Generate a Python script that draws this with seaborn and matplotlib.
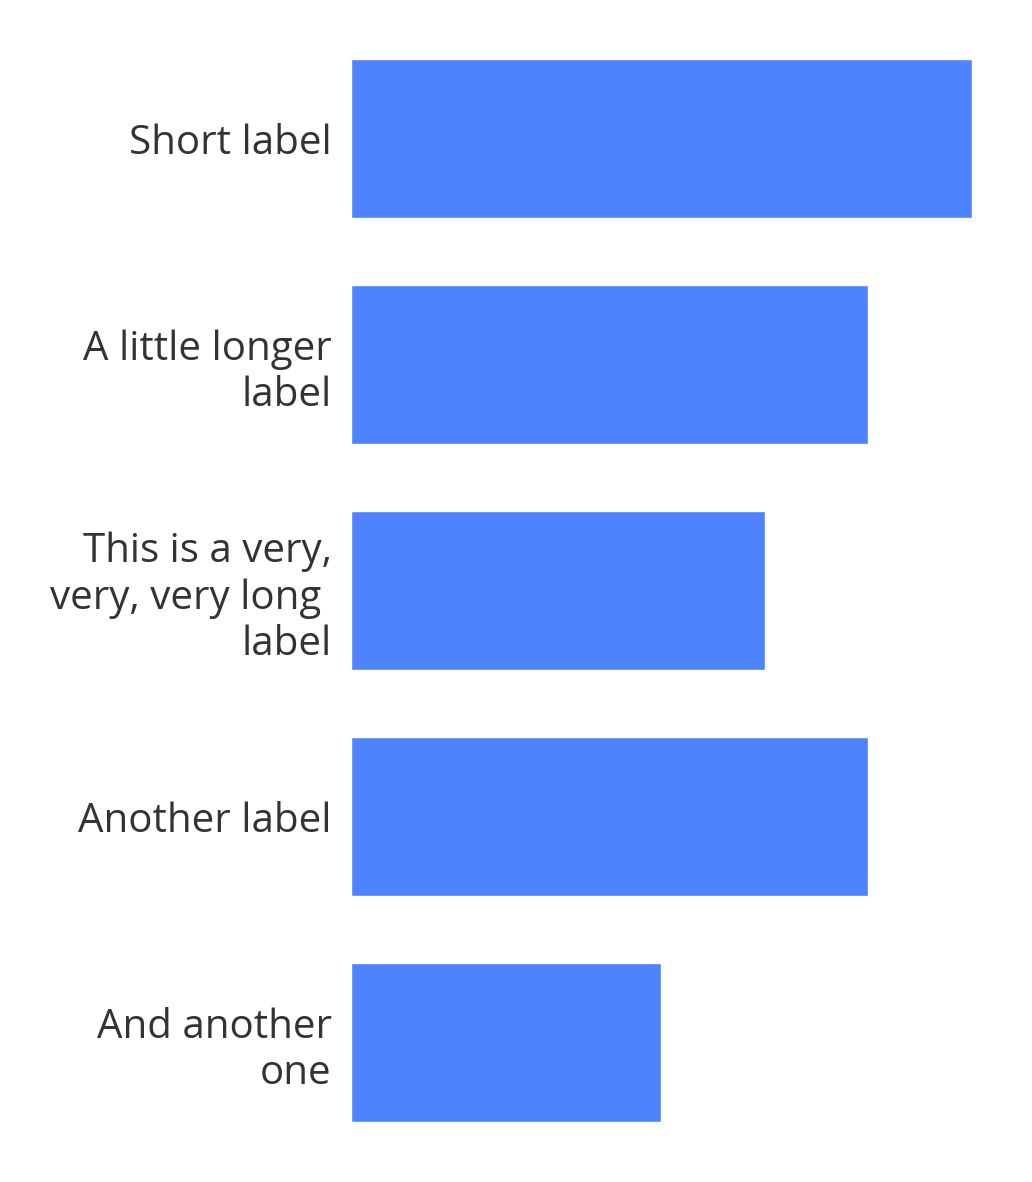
import pandas as pd
import seaborn as sns
from matplotlib import pyplot as plt

labels = ['Short label', 'A little longer\nlabel', 'This is a very,\nvery, very long \nlabel',
          'Another label', 'And another\none']
values = [6, 5, 4, 5, 3]

df = pd.DataFrame({'label': labels, 'value': values})

sns.set_style('white')
plt.rcParams['font.family'] = ['Open Sans', 'DejaVu Sans']

fig = plt.figure(figsize=(10.32, 11.82), dpi=100)
ax = fig.add_axes([351 / 1032, (1182 - 1155.5) / 1182, 621 / 1032, 1130 / 1182])

sns.barplot(data=df, x='value', y='label', orient='h', color='#4d83ff',
            saturation=1, width=0.7, ax=ax)

ax.set_xlim(0, 6)
ax.set_ylim(4.5, -0.5)
ax.set_xlabel('')
ax.set_ylabel('')
ax.set_xticks([])
ax.tick_params(axis='y', length=0, pad=14)
for t in ax.get_yticklabels():
    t.set_fontsize(29)
    t.set_color('#333333')
    t.set_linespacing(1.2)
    t.set_multialignment('right')
sns.despine(ax=ax, left=True, bottom=True)

fig.savefig('out.png', dpi=100)
